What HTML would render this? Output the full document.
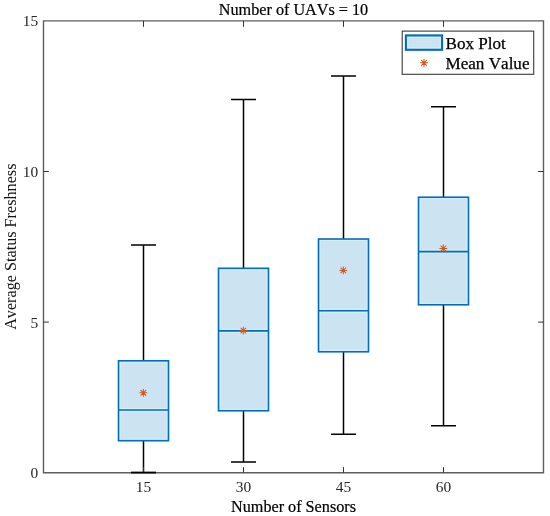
<!DOCTYPE html>
<html><head><meta charset="utf-8"><style>
html,body{margin:0;padding:0;background:#fff;width:550px;height:516px;overflow:hidden}
svg{display:block}
</style></head><body>
<svg width="550" height="516" viewBox="0 0 550 516">
<rect width="550" height="516" fill="#fff"/>
<path d="M143.50 244.9V360.8M143.50 440.7V472.6M131.00 244.9H156.00M131.00 472.6H156.00" stroke="#000" stroke-width="1.5" fill="none"/><rect x="118.50" y="360.8" width="50" height="79.90" fill="#CCE3F2"/><rect x="120.10" y="362.40" width="46.80" height="76.70" fill="none" stroke="#DCEEFB" stroke-width="0.9"/><path d="M120.10 408.40H166.90M120.10 411.60H166.90" stroke="#DCEEFB" stroke-width="0.9"/><rect x="118.50" y="360.8" width="50" height="79.90" fill="none" stroke="#006EBC" stroke-width="1.6"/><path d="M118.50 410.0H168.50" stroke="#006EBC" stroke-width="1.6"/><path d="M139.40 392.80H147.20M143.30 388.90V396.70M140.54 390.04L146.06 395.56M140.54 395.56L146.06 390.04" stroke="#DD5518" stroke-width="1.05" fill="none"/><path d="M243.50 99.6V268.3M243.50 410.8V461.9M231.00 99.6H256.00M231.00 461.9H256.00" stroke="#000" stroke-width="1.5" fill="none"/><rect x="218.50" y="268.3" width="50" height="142.50" fill="#CCE3F2"/><rect x="220.10" y="269.90" width="46.80" height="139.30" fill="none" stroke="#DCEEFB" stroke-width="0.9"/><path d="M220.10 329.30H266.90M220.10 332.50H266.90" stroke="#DCEEFB" stroke-width="0.9"/><rect x="218.50" y="268.3" width="50" height="142.50" fill="none" stroke="#006EBC" stroke-width="1.6"/><path d="M218.50 330.9H268.50" stroke="#006EBC" stroke-width="1.6"/><path d="M239.40 330.70H247.20M243.30 326.80V334.60M240.54 327.94L246.06 333.46M240.54 333.46L246.06 327.94" stroke="#DD5518" stroke-width="1.05" fill="none"/><path d="M343.50 76.0V239.0M343.50 351.8V434.2M331.00 76.0H356.00M331.00 434.2H356.00" stroke="#000" stroke-width="1.5" fill="none"/><rect x="318.50" y="239.0" width="50" height="112.80" fill="#CCE3F2"/><rect x="320.10" y="240.60" width="46.80" height="109.60" fill="none" stroke="#DCEEFB" stroke-width="0.9"/><path d="M320.10 309.20H366.90M320.10 312.40H366.90" stroke="#DCEEFB" stroke-width="0.9"/><rect x="318.50" y="239.0" width="50" height="112.80" fill="none" stroke="#006EBC" stroke-width="1.6"/><path d="M318.50 310.8H368.50" stroke="#006EBC" stroke-width="1.6"/><path d="M339.40 270.40H347.20M343.30 266.50V274.30M340.54 267.64L346.06 273.16M340.54 273.16L346.06 267.64" stroke="#DD5518" stroke-width="1.05" fill="none"/><path d="M443.50 106.7V197.2M443.50 304.8V425.8M431.00 106.7H456.00M431.00 425.8H456.00" stroke="#000" stroke-width="1.5" fill="none"/><rect x="418.50" y="197.2" width="50" height="107.60" fill="#CCE3F2"/><rect x="420.10" y="198.80" width="46.80" height="104.40" fill="none" stroke="#DCEEFB" stroke-width="0.9"/><path d="M420.10 250.00H466.90M420.10 253.20H466.90" stroke="#DCEEFB" stroke-width="0.9"/><rect x="418.50" y="197.2" width="50" height="107.60" fill="none" stroke="#006EBC" stroke-width="1.6"/><path d="M418.50 251.6H468.50" stroke="#006EBC" stroke-width="1.6"/><path d="M439.40 248.50H447.20M443.30 244.60V252.40M440.54 245.74L446.06 251.26M440.54 251.26L446.06 245.74" stroke="#DD5518" stroke-width="1.05" fill="none"/>
<path d="M43.5 20.9H543.5V472.7H43.5Z" fill="none" stroke="#5e5e5e" stroke-width="1.4"/>
<path d="M143.50 472.7V467.10M143.50 20.9V26.80M243.50 472.7V467.10M243.50 20.9V26.80M343.50 472.7V467.10M343.50 20.9V26.80M443.50 472.7V467.10M443.50 20.9V26.80M43.5 322.10H48.90M543.5 322.10H538.10M43.5 171.50H48.90M543.5 171.50H538.10" stroke="#333" stroke-width="1"/>
<path d="M131.00 472.6H156.00" stroke="#000" stroke-width="1.5"/>
<g font-family="'Liberation Serif', serif" font-size="15.4" fill="#262626" style="font-kerning:none">
<text x="38.1" y="478.20" text-anchor="end">0</text>
<text x="38.1" y="327.60" text-anchor="end">5</text>
<text x="38.1" y="177.00" text-anchor="end">10</text>
<text x="38.1" y="26.40" text-anchor="end">15</text>
<text x="143.50" y="491.8" text-anchor="middle">15</text>
<text x="243.50" y="491.8" text-anchor="middle">30</text>
<text x="343.50" y="491.8" text-anchor="middle">45</text>
<text x="443.50" y="491.8" text-anchor="middle">60</text>
</g>
<g font-family="'Liberation Serif', serif" font-size="16.2" fill="#000" stroke="#000" stroke-width="0.2" style="font-kerning:none">
<text x="293.5" y="14.9" text-anchor="middle">Number of UAVs = 10</text>
<text x="293.5" y="511.7" text-anchor="middle">Number of Sensors</text>
<text transform="translate(15.7 246.7) rotate(-90)" text-anchor="middle" stroke-width="0" fill="#111">Average Status Freshness</text>
</g>
<rect x="402.2" y="31.1" width="131.5" height="43.2" fill="#fff" stroke="#3a3a3a" stroke-width="1.1"/>
<rect x="405.9" y="35.4" width="36.2" height="14.4" fill="#CCE3F2"/>
<rect x="407.8" y="37.3" width="32.4" height="10.6" fill="none" stroke="#DCEEFB" stroke-width="0.9"/>
<rect x="405.9" y="35.4" width="36.2" height="14.4" fill="none" stroke="#006EBC" stroke-width="2.1"/>
<path d="M420.10 62.80H427.90M424.00 58.90V66.70M421.24 60.04L426.76 65.56M421.24 65.56L426.76 60.04" stroke="#DD5518" stroke-width="1.05" fill="none"/>
<g font-family="'Liberation Serif', serif" font-size="17.1" fill="#000" stroke="#000" stroke-width="0.25" style="font-kerning:none">
<text x="445.5" y="48.9">Box Plot</text>
<text x="445.5" y="69.3">Mean Value</text>
</g>
</svg>
</body></html>
